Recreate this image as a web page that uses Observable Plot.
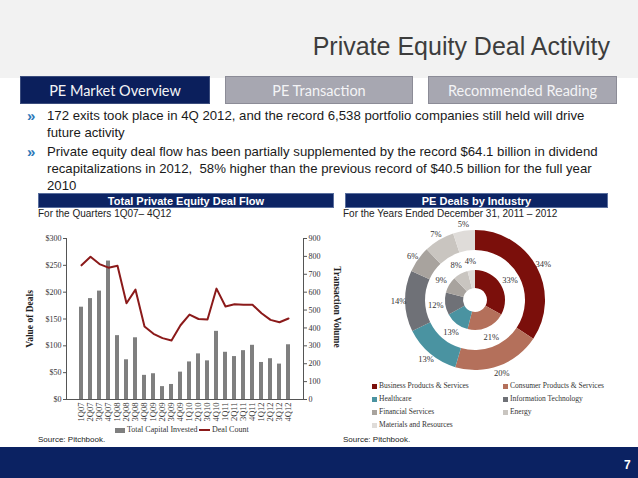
<!DOCTYPE html>
<html><head><meta charset="utf-8">
<script src="https://cdn.jsdelivr.net/npm/d3@7"></script>
<script src="https://cdn.jsdelivr.net/npm/@observablehq/plot@0.6"></script>
<style>
body{margin:0;width:638px;height:478px;position:relative;overflow:hidden;background:#fff;font-family:"Liberation Sans",Arial,sans-serif;}
.abs{position:absolute;}
.tab{position:absolute;top:76px;height:28px;line-height:28px;text-align:center;font-family:Lato,"Open Sans",sans-serif;font-size:14.5px;color:#f4f4f6;box-sizing:border-box;}
.bul{position:absolute;left:47px;font-size:13.2px;line-height:17px;color:#1a1a1a;white-space:nowrap;}
.chev{position:absolute;left:27px;font-size:15px;color:#2b78b8;font-weight:bold;}
.sec{position:absolute;top:193px;height:15px;line-height:15px;background:#0c2464;color:#fff;font-weight:bold;font-size:11px;text-align:center;border:1px solid #5a6f9e;box-sizing:border-box;}
.sub{position:absolute;top:208px;font-size:10px;color:#222;}
.src{position:absolute;top:435px;font-size:8px;color:#222;}
.leg{position:absolute;font-family:"Liberation Serif",serif;font-size:7.5px;color:#333;white-space:nowrap;}
</style></head>
<body>
<div class="abs" style="left:0;top:0;width:638px;height:78px;background:#f2f2f2"></div>
<div class="abs" style="right:28px;top:32px;font-size:25px;color:#3d3d3d;">Private Equity Deal Activity</div>
<div class="tab" style="left:20px;width:190px;background:#0b1f5c;border:1px solid #3b4c7c;">PE Market Overview</div>
<div class="tab" style="left:225px;width:188px;background:#a7a7b1;border:1px solid #8c8c97;">PE Transaction</div>
<div class="tab" style="left:428px;width:189px;background:#a7a7b1;border:1px solid #8c8c97;">Recommended Reading</div>

<div class="chev" style="top:107px">»</div>
<div class="bul" style="top:107px">172 exits took place in 4Q 2012, and the record 6,538 portfolio companies still held will drive<br>future activity</div>
<div class="chev" style="top:143px">»</div>
<div class="bul" style="top:143px">Private equity deal flow has been partially supplemented by the record $64.1 billion in dividend<br>recapitalizations in 2012,&nbsp; 58% higher than the previous record of $40.5 billion for the full year<br>2010</div>

<div class="sec" style="left:38px;width:296px;">Total Private Equity Deal Flow</div>
<div class="sec" style="left:345px;width:263px;">PE Deals by Industry</div>
<div class="sub" style="left:38px;">For the Quarters 1Q07– 4Q12</div>
<div class="sub" style="left:343px;">For the Years Ended December 31, 2011 – 2012</div>

<div id="left" class="abs" style="left:0;top:225px;"></div>
<div id="right" class="abs" style="left:340px;top:220px;"></div>

<div class="abs" style="left:115px;top:428px;width:10px;height:5px;background:#7f7f7f"></div>
<div class="leg" style="left:127px;top:425px;font-size:8px;">Total Capital Invested</div>
<div class="abs" style="left:199px;top:429px;width:11px;height:2px;background:#8b1a1a"></div>
<div class="leg" style="left:212px;top:425px;font-size:8px;">Deal Count</div>

<div id="dleg"></div>

<div class="src" style="left:38px;">Source: Pitchbook.</div>
<div class="src" style="left:343px;">Source: Pitchbook.</div>
<div class="abs" style="left:0;top:447px;width:638px;height:31px;background:#0b2262"></div>
<div class="abs" style="left:624px;top:458px;color:#fff;font-size:12px;font-weight:bold;">7</div>

<script>
// ---- Data ----
const quarters = ["1Q07","2Q07","3Q07","4Q07","1Q08","2Q08","3Q08","4Q08","1Q09","2Q09","3Q09","4Q09","1Q10","2Q10","3Q10","4Q10","1Q11","2Q11","3Q11","4Q11","1Q12","2Q12","3Q12","4Q12"];
const capitalInvested = [172,188,202,258,119,74,115,45,48,24,28,51,70,85,72,127,88,80,91,101,69,76,66,102];
const dealCount = [750,798,757,737,748,538,614,408,367,343,330,415,475,450,447,620,520,532,530,530,482,445,432,453];
const leftTicks = [0,50,100,150,200,250,300];
const rightTicks = [0,100,200,300,400,500,600,700,800,900];

const industries = ["Business Products & Services","Consumer Products & Services","Healthcare","Information Technology","Financial Services","Energy","Materials and Resources"];
const industryColors = ["#7b0f0b","#b4705b","#4a93a1","#6f7177","#a8a39e","#c9c5c0","#dfdcd9"];
const outerShares = [34,20,13,14,6,7,5];
const innerShares = [33,21,13,12,9,8,4];

// ---- Left chart ----
const flow = quarters.map((q,i)=>({q, capital: capitalInvested[i], deals: dealCount[i]}));
const leftPlot = Plot.plot({
  width: 345, height: 215,
  marginLeft: 66, marginRight: 42, marginTop: 13, marginBottom: 41,
  style: {fontFamily: '"Liberation Serif", serif', fontSize: "8px", color: "#333", background: "transparent"},
  x: {domain: quarters, paddingInner: 0.55, paddingOuter: 0.275, label: null},
  y: {domain: [0, 300], label: null},
  marks: [
    Plot.barY(flow, {x: "q", y: "capital", fill: "#7f7f7f"}),
    Plot.line(flow, {x: "q", y: d => d.deals / 3, stroke: "#8b1a1a", strokeWidth: 2}),
    Plot.frame({anchor: "left", stroke: "#555"}),
    Plot.frame({anchor: "right", stroke: "#555"}),
    Plot.ruleY([0], {stroke: "#555"}),
    Plot.axisY({ticks: leftTicks, tickFormat: d => "$" + d, tickSize: 3, tickPadding: 2, label: null, stroke: "#555"}),
    Plot.axisY({anchor: "right", ticks: rightTicks.map(v => v / 3), tickFormat: d => Math.round(d * 3), tickSize: 3, tickPadding: 2, label: null, stroke: "#555"}),
    Plot.axisX({tickRotate: -90, tickSize: 0, tickPadding: 3, fontSize: 8.5, label: null}),
    Plot.text(["Value of Deals"], {frameAnchor: "left", dx: -37, rotate: -90, textAnchor: "middle", fontWeight: "bold", fontSize: 9.5, fill: "#222"}),
    Plot.text(["Transaction Volume"], {frameAnchor: "right", dx: 34, dy: -12, rotate: 90, textAnchor: "middle", fontWeight: "bold", fontSize: 9.5, fill: "#222"})
  ]
});
document.getElementById("left").append(leftPlot);

// ---- Donut chart ----
const pie = d3.pie().sort(null);
const rings = [
  {shares: outerShares, r0: 50, r1: 70, labelR: 77},
  {shares: innerShares, r0: 12, r1: 30, labelR: 40}
];
const labels = [];
rings.forEach(ring => {
  pie(ring.shares).forEach((a, i) => {
    const mid = (a.startAngle + a.endAngle) / 2;
    labels.push({x: ring.labelR * Math.sin(mid), y: -ring.labelR * Math.cos(mid), t: ring.shares[i] + "%"});
  });
});
const donutMark = (index, scales) => {
  const g = d3.create("svg:g");
  const cx = scales.x(0), cy = scales.y(0);
  const px = r => Math.abs(scales.x(r) - scales.x(0));
  rings.forEach(ring => {
    const arc = d3.arc().innerRadius(px(ring.r0)).outerRadius(px(ring.r1));
    g.append("g").attr("transform", `translate(${cx},${cy})`)
      .selectAll("path").data(pie(ring.shares)).join("path")
      .attr("d", arc).attr("fill", (d, i) => industryColors[i]);
  });
  return g.node();
};
const donutPlot = Plot.plot({
  width: 270, height: 160, margin: 0,
  style: {fontFamily: '"Liberation Serif", serif', fontSize: "8.5px", background: "transparent"},
  x: {domain: [-135, 135], range: [0, 270], axis: null},
  y: {domain: [-80, 80], range: [0, 160], axis: null},
  marks: [
    donutMark,
    Plot.text(labels, {x: "x", y: "y", text: "t", fill: "#333", fontSize: 8.5})
  ]
});
document.getElementById("right").append(donutPlot);

// ---- Donut legend ----
const dleg = document.getElementById("dleg");
industries.forEach((name, i) => {
  const col = i % 2;
  const row = Math.floor(i / 2);
  const x = col === 0 ? 372 : 503;
  const y = 382 + row * 13;
  const sw = document.createElement("div");
  sw.className = "abs";
  sw.style.cssText = `left:${x}px;top:${y+2}px;width:5px;height:5px;background:${industryColors[i]}`;
  const tx = document.createElement("div");
  tx.className = "leg";
  tx.style.cssText = `left:${x+7}px;top:${y-1}px;`;
  tx.textContent = name;
  dleg.append(sw, tx);
});
</script>
</body></html>
